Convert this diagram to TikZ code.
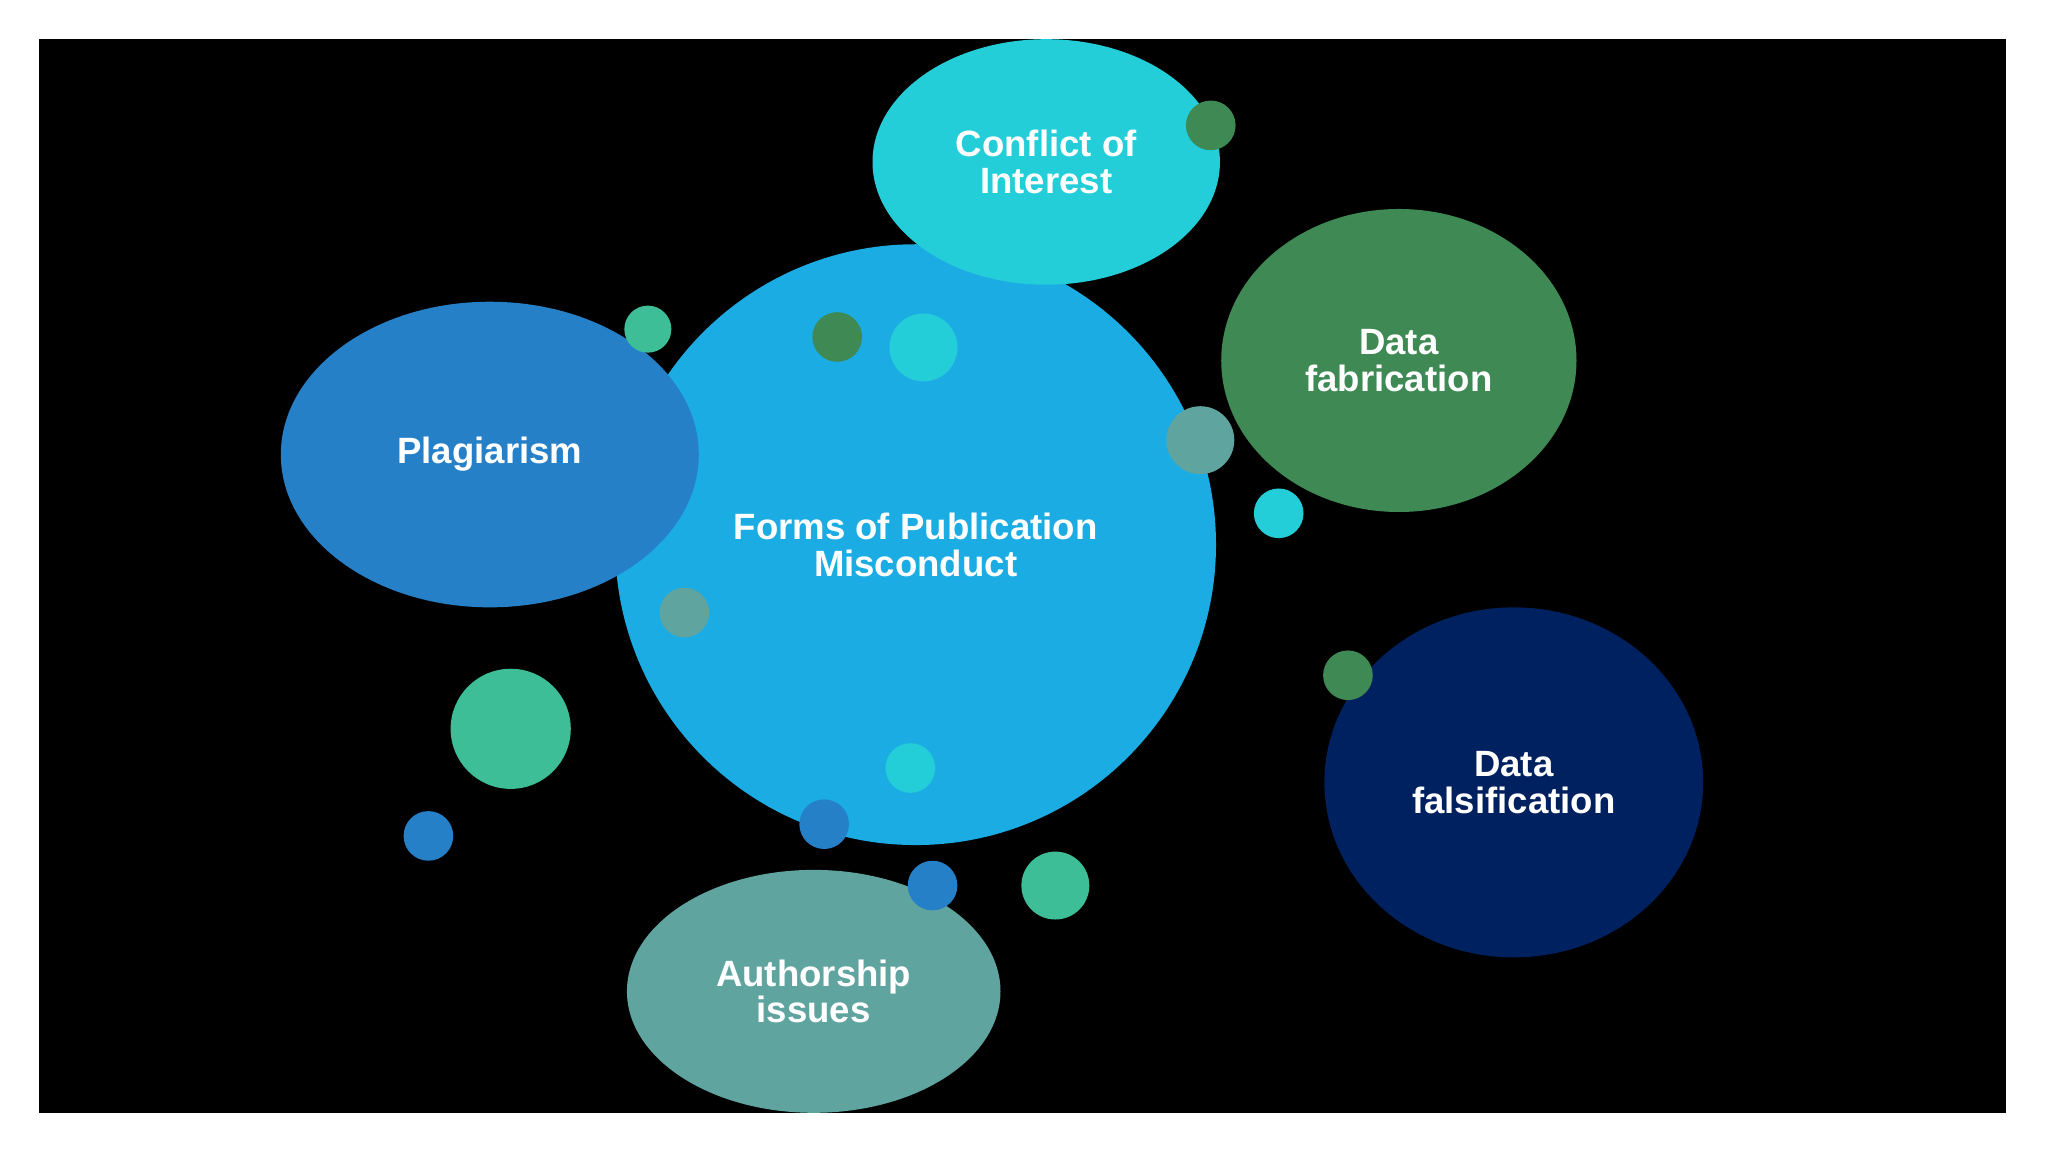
\documentclass[tikz,border=0pt]{standalone}
\usepackage{fontspec}
\setmainfont{Liberation Sans}
\begin{document}
\definecolor{cmain}{RGB}{28,172,228}
\definecolor{ccyan}{RGB}{36,206,216}
\definecolor{cgreen}{RGB}{62,137,84}
\definecolor{cnavy}{RGB}{0,33,96}
\definecolor{cblue}{RGB}{38,128,200}
\definecolor{cgray}{RGB}{96,164,160}
\definecolor{cteal}{RGB}{62,190,150}
\begin{tikzpicture}[x=0.5pt,y=-0.5pt,
  lbl/.style={text=white,font=\fontsize{14}{14}\selectfont\bfseries,align=center},
  dot/.style={circle,inner sep=0pt}]
\useasboundingbox (0,0) rectangle (1568,882);
\fill[white] (0,0) rectangle (1568,882);
\fill[black] (30,30) rectangle (1536,852);
\fill[cmain] (701,417) ellipse [x radius=230,y radius=230];
\fill[ccyan] (801,124) ellipse [x radius=133,y radius=94];
\fill[cgreen] (1071,276) ellipse [x radius=136,y radius=116];
\fill[cnavy] (1159,599) ellipse [x radius=145,y radius=134];
\fill[cblue] (375,348) ellipse [x radius=160,y radius=117];
\fill[cgray] (623,759) ellipse [x radius=143,y radius=93];
\node[lbl] (m) at (701,417) {Forms of Publication\\Misconduct};
\node[lbl] (c) at (801,124) {Conflict of\\Interest};
\node[lbl] (f) at (1071,276) {Data\\fabrication};
\node[lbl] (s) at (1159,599) {Data\\falsification};
\node[lbl] (p) at (375,348) {Plagiarism};
\node[lbl] (a) at (623,759) {Authorship\\issues};
\foreach \x/\y/\r/\c in {496/252/18/cteal,641/258/19/cgreen,707/266/26/ccyan,927/96/19/cgreen,919/337/26/cgray,979/393/19/ccyan,1032/517/19/cgreen,524/469/19/cgray,391/558/46/cteal,328/640/19/cblue,697/588/19/ccyan,631/631/19/cblue,714/678/19/cblue,808/678/26/cteal}
  \fill[\c] (\x,\y) circle [radius=\r];
\end{tikzpicture}
\end{document}
